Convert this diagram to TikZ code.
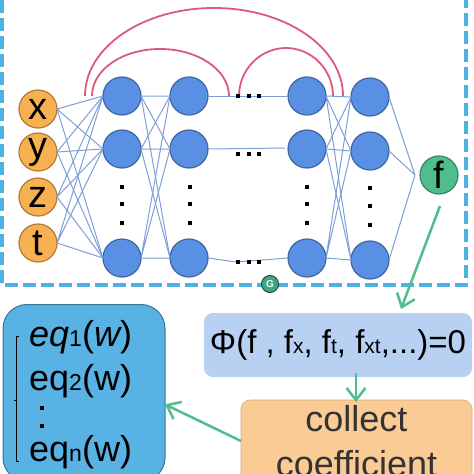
\documentclass[tikz,border=0pt]{standalone}
\usepackage{fontspec}
\setmainfont{Liberation Sans}
\usetikzlibrary{arrows.meta, positioning}

\definecolor{framecol}{HTML}{4FB0E3}
\definecolor{inputcol}{HTML}{F8B150}
\definecolor{neuroncol}{HTML}{5A90E4}
\definecolor{linkcol}{HTML}{7E9FD6}
\definecolor{skipcol}{HTML}{DB5A78}
\definecolor{greencol}{HTML}{4FBE8C}
\definecolor{phicol}{HTML}{B8D0F2}
\definecolor{collectcol}{HTML}{FBCB96}
\definecolor{eqcol}{HTML}{58B3E4}

\begin{document}
\begin{tikzpicture}[
    x=1pt, y=-1pt,
    input/.style   = {circle, draw=inputcol!70!black, line width=1.2pt, fill=inputcol, outer sep=0pt,
                      minimum size=38pt, inner sep=0pt, font=\fontsize{38}{38}\selectfont},
    neuron/.style  = {circle, draw=neuroncol!70!black, line width=1.2pt, fill=neuroncol, outer sep=0pt,
                      minimum size=38pt, inner sep=0pt},
    output/.style  = {input, draw=greencol!70!black, fill=greencol},
    dotmark/.style = {fill=black, minimum size=3.6pt, inner sep=0pt},
    link/.style    = {draw=linkcol, line width=1pt},
    skip/.style    = {draw=skipcol, line width=1.8pt},
    arrow/.style   = {-{Straight Barb[length=12pt, width=19pt, line width=2.5pt]}, draw=greencol, line width=2.5pt},
    panel/.style   = {rounded corners=9pt, outer sep=0pt, inner sep=0pt},
    eqline/.style  = {anchor=west, inner sep=0pt, font=\fontsize{36}{36}\selectfont}
]
\clip (0,0) rectangle (474,474);
\fill[white] (0,0) rectangle (474,474);

%% -- dashed frame
\draw[framecol, line width=4.6pt, dash pattern=on 13pt off 5pt] (2,0) -- (2,285) -- (466,285) -- (466,0);

%% -- input column
\node[input] (x) at (38,109) {x};
\node[input, below=5pt of x] (y) {y};
\node[input, below=7pt of y] (z) {z};
\node[input, below=8pt of z] (t) {t};

%% -- hidden columns
\node[neuron] (a1) at (122,96) {};
\node[neuron, below=15pt of a1] (a2) {};
\node[neuron, below=71pt of a2] (a3) {};

\node[neuron] (b1) at (189,96) {};
\node[neuron, below=15pt of b1] (b2) {};
\node[neuron, below=71pt of b2] (b3) {};

\node[neuron] (c1) at (307,96) {};
\node[neuron, below=15pt of c1] (c2) {};
\node[neuron, below=71pt of c2] (c3) {};

\node[neuron] (d1) at (370,97) {};
\node[neuron, below=16pt of d1] (d2) {};
\node[neuron, below=71pt of d2] (d3) {};

%% -- output
\node[output] (f) at (439,175) {f};
\coordinate (fin) at (415,175);

%% -- links
\draw[link] (x.east) -- (a1.west) (x.east) -- (a2.west) (x.east) -- (a3.west);
\draw[link] (y.east) -- (a1.west) (y.east) -- (a2.west) (y.east) -- (a3.west);
\draw[link] (z.east) -- (a1.west) (z.east) -- (a2.west) (z.east) -- (a3.west);
\draw[link] (t.east) -- (a1.west) (t.east) -- (a2.west) (t.east) -- (a3.west);

\draw[link] (a1.east) -- (b1.west) (a1.east) -- (b2.west) (a1.east) -- (b3.west);
\draw[link] (a2.east) -- (b1.west) (a2.east) -- (b2.west) (a2.east) -- (b3.west);
\draw[link] (a3.east) -- (b1.west) (a3.east) -- (b2.west) (a3.east) -- (b3.west);

\draw[link] (c1.east) -- (d1.west) (c1.east) -- (d2.west) (c1.east) -- (d3.west);
\draw[link] (c2.east) -- (d1.west) (c2.east) -- (d2.west) (c2.east) -- (d3.west);
\draw[link] (c3.east) -- (d1.west) (c3.east) -- (d2.west) (c3.east) -- (d3.west);

\draw[link] (d1.east) -- (fin) (d2.east) -- (fin) (d3.east) -- (fin);

\coordinate (bend2) at (285,148);
\coordinate (bend3) at (236,262);
\draw[link] (b1.east) -- (c1.west);
\draw[link] (b2.east) -- (bend2);
\draw[link] (b3.east) -- (bend3);
\draw[link] (c3.west) -- (bend3);

%% -- skip arcs
\coordinate (skipa) at (85,96);
\coordinate (skipb) at (343,96);
\coordinate (skipc) at (92,96);
\coordinate (skipd) at (229,96);
\coordinate (skipe) at (239,96);
\coordinate (skipf) at (333,96);
\draw[skip] (skipa) .. controls (85,47) and (143,8) .. (214,8) .. controls (285,8) and (343,47) .. (skipb);
\draw[skip] (skipc) .. controls (92,70) and (122,49) .. (160,49) .. controls (198,49) and (229,70) .. (skipd);
\draw[skip] (skipe) .. controls (239,70) and (260,48) .. (286,48) .. controls (312,48) and (333,70) .. (skipf);

%% -- dots
\node[dotmark] (adot1) at (122,187) {};
\node[dotmark] (adot2) at (122,204) {};
\node[dotmark] (adot3) at (122,223) {};
\node[dotmark] (bdot1) at (190,187) {};
\node[dotmark] (bdot2) at (190,204) {};
\node[dotmark] (bdot3) at (190,223) {};
\node[dotmark] (cdot1) at (307,187) {};
\node[dotmark] (cdot2) at (307,204) {};
\node[dotmark] (cdot3) at (307,223) {};
\node[dotmark] (ddot1) at (370,188) {};
\node[dotmark] (ddot2) at (370,206) {};
\node[dotmark] (ddot3) at (370,225) {};

\node[dotmark] (rdot1) at (238,96) {};
\node[dotmark] (rdot2) at (249,96) {};
\node[dotmark] (rdot3) at (259,96) {};
\node[dotmark] (sdot1) at (238,154) {};
\node[dotmark] (sdot2) at (249,154) {};
\node[dotmark] (sdot3) at (259,154) {};
\node[dotmark] (tdot1) at (238,262) {};
\node[dotmark] (tdot2) at (249,262) {};
\node[dotmark] (tdot3) at (259,262) {};

%% -- small badge on the frame
\node[circle, draw=black!75, line width=1pt, fill=greencol!70!teal, minimum size=17pt, inner sep=0pt,
      text=white, font=\bfseries\fontsize{10}{10}\selectfont] (badge) at (270,284) {G};

%% -- lower panels
\node[panel, fill=phicol, minimum width=268pt, minimum height=64pt,
      font=\fontsize{33}{33}\selectfont] (phi) at (338,345)
      {Φ(f , f{\fontsize{21}{21}\selectfont x}, f{\fontsize{21}{21}\selectfont t}, f{\fontsize{21}{21}\selectfont xt},...)=0};

\node[panel, fill=collectcol, draw=collectcol!85!black, line width=0.6pt, minimum width=231pt, minimum height=82pt,
      align=center, text=black!80, font=\fontsize{36}{45}\selectfont] (coll) at (356.5,441) {collect\\coefficient};

\node[panel, rounded corners=24pt, fill=eqcol, draw=eqcol!65!black, line width=1pt,
      minimum width=162pt, minimum height=177pt] (eqs) at (84,393) {};

\node[eqline] (eq1) at (29,337) {{\itshape eq}{\fontsize{23}{23}\selectfont 1}({\itshape w})};
\node[eqline] (eq2) at (29,381) {eq{\fontsize{23}{23}\selectfont 2}(w)};
\node[eqline] (eq3) at (29,452) {eq{\fontsize{23}{23}\selectfont n}(w)};
\node[dotmark] (eqdot1) at (42,408) {};
\node[dotmark] (eqdot2) at (42,426) {};

\draw[black, line width=1pt] (19,336) -- (16,336) -- (16,461) -- (19,461) (16,400) -- (14,400);

%% -- green arrows
\coordinate (fout) at (440,206);
\coordinate (phitop) at (401,309);
\coordinate (phibot) at (356,373);
\coordinate (colltop) at (356,402);
\draw[arrow] (fout) -- (phitop);
\draw[arrow] (phibot) -- (colltop);
\draw[arrow] (coll.west) -- (eqs.-8);

\end{tikzpicture}
\end{document}
